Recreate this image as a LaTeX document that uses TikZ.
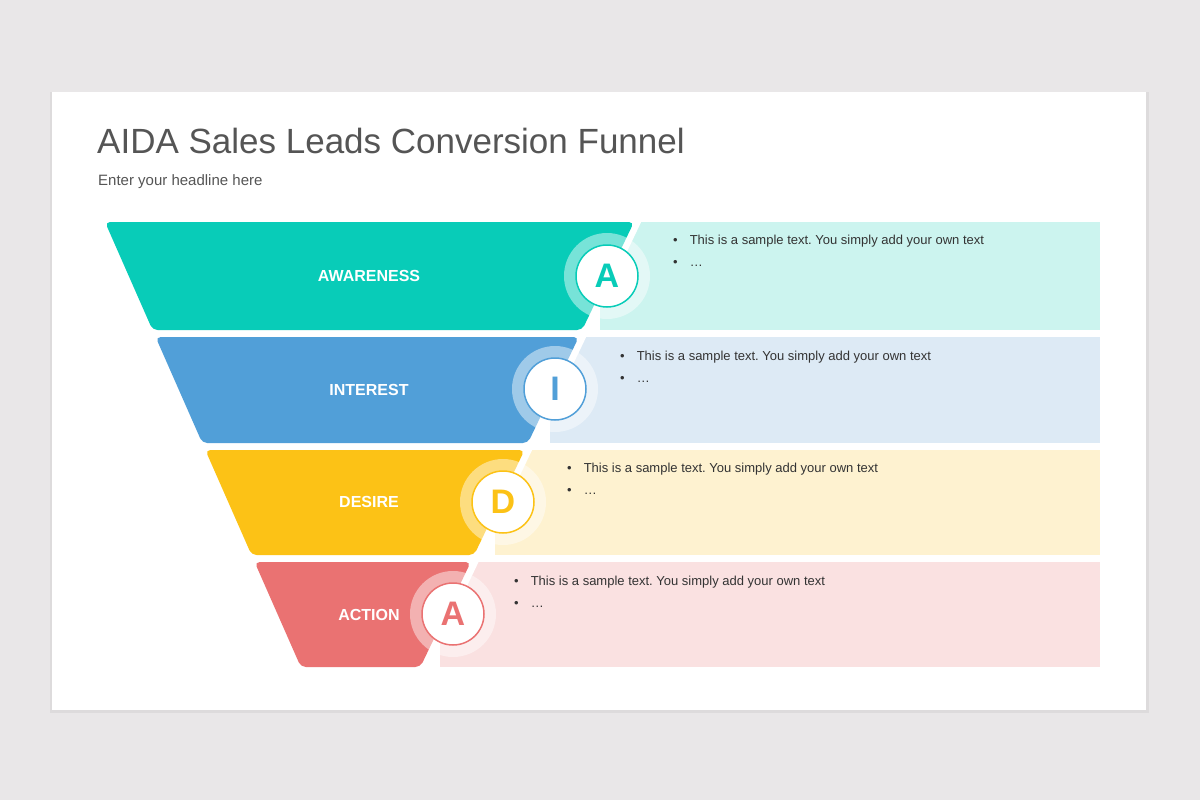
\documentclass[tikz,border=0pt]{standalone}
\usepackage{fontspec}
\setmainfont{Liberation Sans}
\usetikzlibrary{calc}
\definecolor{bg}{HTML}{E9E7E8}
\definecolor{cA}{HTML}{08CCB8}\definecolor{lA}{HTML}{CCF4EF}
\definecolor{cI}{HTML}{519FD8}\definecolor{lI}{HTML}{DDEAF5}
\definecolor{cD}{HTML}{FCC216}\definecolor{lD}{HTML}{FEF2D0}
\definecolor{cX}{HTML}{EA7272}\definecolor{lX}{HTML}{FAE1E1}
\definecolor{tg}{HTML}{555555}
\definecolor{tx}{HTML}{333333}
\frenchspacing
\tikzset{
 band/.style={fill=#1,rounded corners=5pt},
 lbl/.style={text=white,font=\fontsize{16}{16}\selectfont\bfseries},
 halo/.style={circle,fill=white,opacity=0.45,minimum size=86pt,inner sep=0},
 badge/.style={circle,fill=white,draw=#1,line width=1.5pt,minimum size=62pt,inner sep=0,text=#1,font=\fontsize{34}{34}\selectfont\bfseries},
 btxt/.style={anchor=west,text=tx,font=\fontsize{13}{13}\selectfont,inner sep=0},
}
\newcommand\myband[3]{%
 \fill[band=#1] ({105+0.44*(#2-222)},#2) -- ({634-0.48*(#2-222)},#2) -- ({634-0.48*(#3-222)},#3) -- ({105+0.44*(#3-222)},#3) -- cycle;}
\begin{document}
\begin{tikzpicture}[x=1pt,y=-1pt]
\useasboundingbox (0,0) rectangle (1200,800);
\fill[bg] (0,0) rectangle (1200,800);
\fill[black,opacity=0.05] (50,92) rectangle (1149,713);
\fill[white] (52,92) rectangle (1146,710);
\node[anchor=west,text=tg,font=\fontsize{35}{35}\selectfont,inner sep=0] (title) at (97,141) {AIDA Sales Leads Conversion Funnel};
\node[anchor=west,text=tg,font=\fontsize{15}{15}\selectfont,inner sep=0] (sub) at (98,182) {Enter your headline here};
% light text boxes
\fill[lA] (600,222) rectangle (1100,330);
\fill[lI] (550,337) rectangle (1100,443);
\fill[lD] (495,450) rectangle (1100,555);
\fill[lX] (440,562) rectangle (1100,667);
% funnel outline
\fill[white,rounded corners=10pt] (96,214) -- (645,214) -- (424,676) -- (304,676) -- cycle;
\myband{cA}{222}{330}
\myband{cI}{337}{443}
\myband{cD}{450}{555}
\myband{cX}{562}{667}
\node[lbl] (aw) at (369,276) {AWARENESS};
\node[lbl] (in) at (369,390) {INTEREST};
\node[lbl] (de) at (369,502) {DESIRE};
\node[lbl] (ac) at (369,615) {ACTION};
% badges
\node[halo] (h1) at (607,276) {};
\node[badge=cA] (b1) at (607,276) {A};
\node[halo] (h2) at (555,389) {};
\node[badge=cI] (b2) at (555,389) {I};
\node[halo] (h3) at (503,502) {};
\node[badge=cD] (b3) at (503,502) {D};
\node[halo] (h4) at (453,614) {};
\node[badge=cX] (b4) at (453,614) {A};
% bullets
\foreach \n/\bx/\yy in {r1/673/241, r2/620/357, r3/567/469, r4/514/582}{
 \node[btxt] (\n a) at (\bx,\yy) {\textbullet\hspace{12pt}This is a sample text. You simply add your own text};
 \node[btxt] (\n b) at (\bx,\yy+22) {\textbullet\hspace{12pt}\dots};
}
\end{tikzpicture}
\end{document}
